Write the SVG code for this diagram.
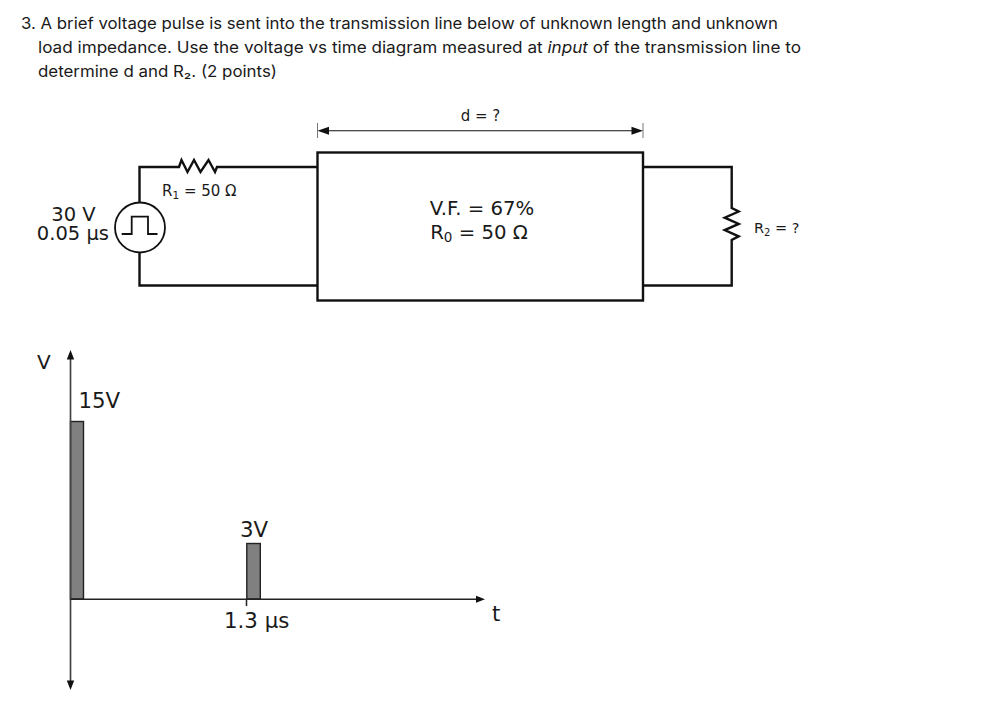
<svg xmlns="http://www.w3.org/2000/svg" width="1007" height="714" viewBox="0 0 1007 714">
<style>
.q{font-family:"Inter","Liberation Sans",sans-serif;font-size:16px;fill:#1a1a1a}
.d{font-family:"DejaVu Sans",sans-serif;fill:#1a1a1a}
.w{fill:none;stroke:#111;stroke-width:2.400}
.p{fill:#808080;stroke:#222;stroke-width:1.400}
.h{fill:#111;stroke:none}
</style>
<rect width="1007" height="714" fill="#fff"/>
<g id="question">
<text class="q" x="21" y="29" textLength="757" lengthAdjust="spacingAndGlyphs">3. A brief voltage pulse is sent into the transmission line below of unknown length and unknown</text>
<text class="q" x="38" y="53" textLength="763" lengthAdjust="spacingAndGlyphs">load impedance. Use the voltage vs time diagram measured at <tspan font-style="italic">input</tspan> of the transmission line to</text>
<text class="q" x="38" y="77" textLength="239" lengthAdjust="spacingAndGlyphs">determine d and R₂. (2 points)</text>
</g>
<g id="connectors">
<path class="w" d="M139.500 202V167H179L181.500 160 187.500 172 194 160 200.500 172 208.500 160 215 172 217 167H317"/>
<path class="w" d="M139.500 253V285.500H317"/>
<path class="w" d="M643 167H731.700V208l7 3.500-14 6.200 14 6.200-14 6.200 14 6.200-7 3.700V285.500H643"/>
</g>
<g id="source">
<circle cx="140" cy="227.500" r="25" fill="#fff" stroke="#111" stroke-width="1.800"/>
<path d="M121.700 234H131.700V216.700H148V234H157.500" fill="none" stroke="#111" stroke-width="1.800"/>
<text class="d" x="73.500" y="220.500" font-size="19.500" text-anchor="middle">30 V</text>
<text class="d" x="109" y="240" font-size="19.500" text-anchor="end">0.05 µs</text>
</g>
<g id="r1">
<text class="d" x="162" y="195.500" font-size="15">R<tspan font-size="10.500" dy="3">1</tspan><tspan dy="-3"> = 50 Ω</tspan></text>
</g>
<g id="line">
<rect x="317.500" y="152.500" width="325.500" height="148" fill="#fff" stroke="#111" stroke-width="2.400"/>
<text class="d" x="482" y="214.500" font-size="19.700" text-anchor="middle">V.F. = 67%</text>
<text class="d" x="479" y="239" font-size="19.700" text-anchor="middle">R<tspan font-size="13.500" dy="3">0</tspan><tspan dy="-3"> = 50 Ω</tspan></text>
</g>
<g id="dimension">
<path d="M317.500 123V138M643 123V138" stroke="#777" stroke-width="1" fill="none"/>
<path d="M320 130.700H640" stroke="#111" stroke-width="1.100" fill="none"/>
<path class="h" d="M317.500 130.700l11.500-4v8zM643 130.700l-11.500-4v8z"/>
<text class="d" x="480.500" y="121" font-size="15" text-anchor="middle">d = ?</text>
</g>
<g id="r2">
<text class="d" x="754" y="233" font-size="14.500">R<tspan font-size="10" dy="3">2</tspan><tspan dy="-3"> = ?</tspan></text>
</g>
<g id="graph">
<rect class="p" x="70.500" y="421.500" width="13" height="177.500"/>
<rect class="p" x="246.800" y="543.500" width="13.500" height="55.500"/>
<path d="M70.500 356V684" stroke="#444" stroke-width="1.700" fill="none"/>
<path d="M70.500 599.300H478M246.500 599V606" stroke="#222" stroke-width="1.500" fill="none"/>
<path class="h" d="M70.500 350l3.700 9.500h-7.400zM70.500 690l-3.700-9.500h7.400zM485 599.300l-9-3.500v7z"/>
<text class="d" x="37" y="369" font-size="20">V</text>
<text class="d" x="78.500" y="408" font-size="21.300">15V</text>
<text class="d" x="240" y="537" font-size="21.300">3V</text>
<text class="d" x="224" y="628" font-size="21.300">1.3 µs</text>
<text class="d" x="492" y="621" font-size="21.300">t</text>
</g>
</svg>
